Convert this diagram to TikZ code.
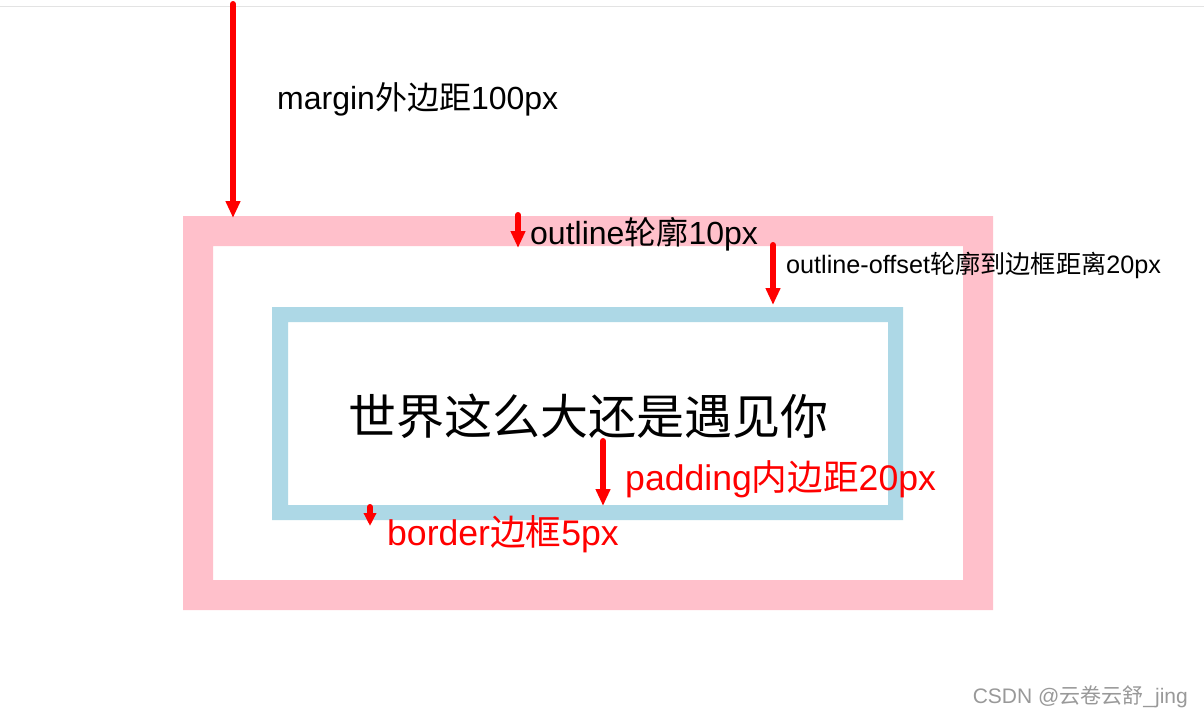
\documentclass[tikz,border=0pt]{standalone}
\usepackage{fontspec}
\setmainfont{Liberation Sans}
\newfontfamily\cjk{Noto Sans CJK SC}
\usetikzlibrary{arrows.meta}
\definecolor{pinkc}{HTML}{FFC0CB}
\definecolor{bluec}{HTML}{ADD8E6}
\definecolor{redc}{HTML}{FF0000}
\definecolor{greyc}{HTML}{999999}
\definecolor{linec}{HTML}{E3E3E3}
\newcommand\zh[1]{{\cjk #1}}
\tikzset{
  redarrow/.style={draw=redc,line width=6pt,line cap=round,-{Triangle[length=17pt,width=14pt]}},
  lbl/.style={inner sep=0pt,anchor=base west},
}
\begin{document}
\begin{tikzpicture}[x=1pt,y=-1pt]
\useasboundingbox (0,0) rectangle (1204,718);
\fill[white] (0,0) rectangle (1204,718);
\draw[linec,line width=1pt] (0,6) -- (1204,6);
% outline (pink)
\fill[pinkc,even odd rule] (183,216) rectangle (993,610) (213,246) rectangle (963,580);
% border (light blue)
\fill[bluec,even odd rule] (272,307) rectangle (903,520) (288,322) rectangle (888,505);
% main text
\node[inner sep=0pt,anchor=base] (main) at (588,434) {\fontsize{48}{56}\selectfont\zh{世界这么大还是遇见你}};
% labels
\node[lbl] (margin) at (277,109) {\fontsize{32}{38}\selectfont margin\zh{外边距}100px};
\node[lbl] (outline) at (530,244) {\fontsize{32}{38}\selectfont outline\zh{轮廓}10px};
\node[lbl] (offset) at (786,273) {\fontsize{25.2}{30}\selectfont outline-offset\zh{轮廓到边框距离}20px};
\node[lbl,text=redc] (padding) at (625,490) {\fontsize{35.6}{42}\selectfont padding\zh{内边距}20px};
\node[lbl,text=redc] (border) at (387,545) {\fontsize{35.6}{42}\selectfont border\zh{边框}5px};
\node[inner sep=0pt,anchor=base east,text=greyc] (wm) at (1188,703) {\fontsize{21}{25}\selectfont CSDN @\zh{云卷云舒}\_jing};
% arrows
\coordinate (a1s) at (233,4);  \coordinate (a1e) at (233,218);
\coordinate (a2s) at (518,215); \coordinate (a2e) at (518,248);
\coordinate (a3s) at (773,245); \coordinate (a3e) at (773,305);
\coordinate (a4s) at (603,441); \coordinate (a4e) at (603,506);
\coordinate (a5s) at (370,507); \coordinate (a5e) at (370,526);
\draw[redarrow] (a1s) -- (a1e);
\draw[redarrow] (a2s) -- (a2e);
\draw[redarrow] (a3s) -- (a3e);
\draw[redarrow] (a4s) -- (a4e);
\draw[redarrow,-{Triangle[length=13pt,width=12pt]}] (a5s) -- (a5e);
\end{tikzpicture}
\end{document}
